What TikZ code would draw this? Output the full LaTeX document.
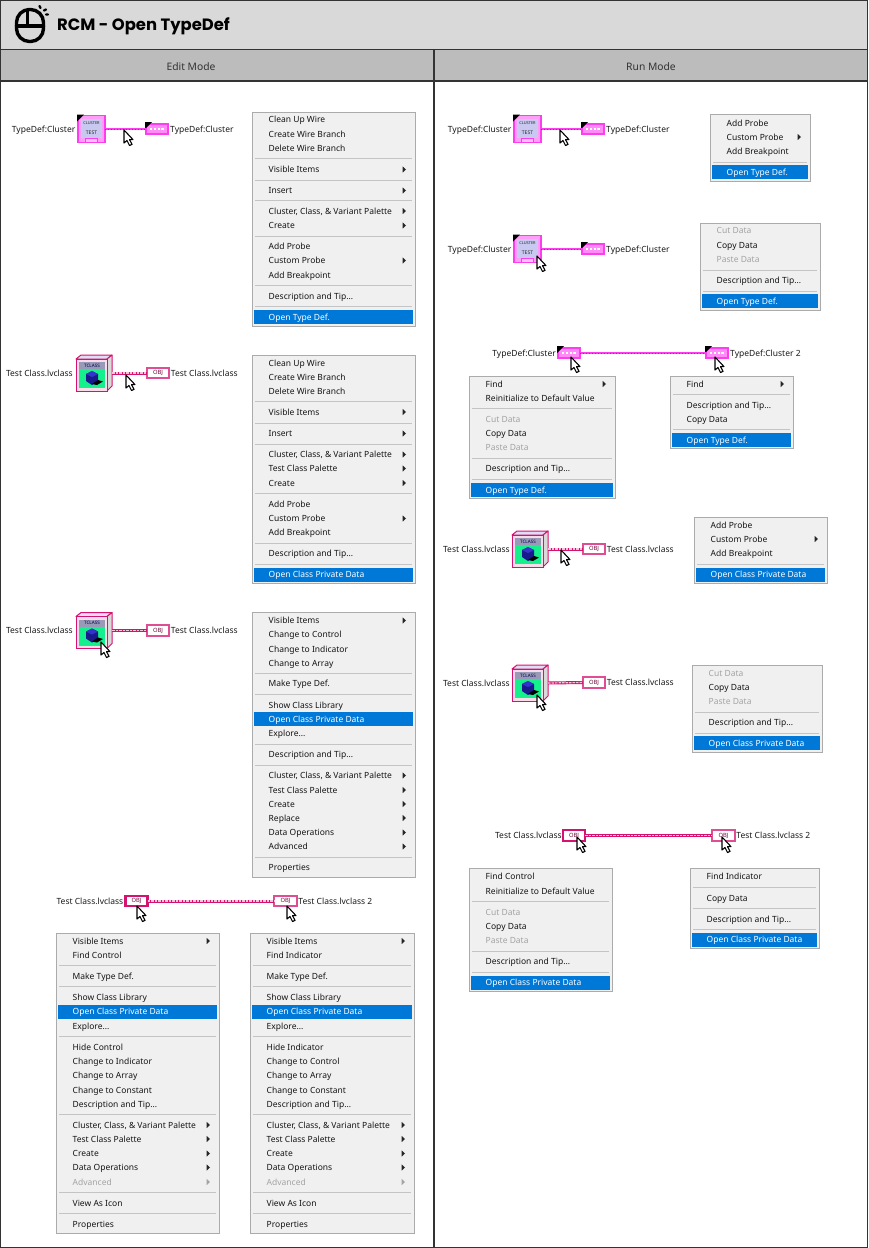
\documentclass[tikz,border=0pt]{standalone}
\usepackage{fontspec}
\usepackage{tikz}
\usetikzlibrary{positioning}
\setmainfont{Noto Sans}
\newfontfamily\titlefont{Poppins}
\definecolor{titlebg}{HTML}{D9D9D9}
\definecolor{headbg}{HTML}{BCBCBC}
\definecolor{frameline}{HTML}{333333}
\definecolor{menubg}{HTML}{F0F0F0}
\definecolor{menuedge}{HTML}{ABABAB}
\definecolor{menusep}{HTML}{C4C4C4}
\definecolor{menublue}{HTML}{0078D7}
\definecolor{menugray}{HTML}{A3A3A3}
\definecolor{clusterpink}{HTML}{FF3DF0}
\definecolor{classpink}{HTML}{D5126F}
\definecolor{lavender}{HTML}{C8C8F0}
\definecolor{classgreen}{HTML}{14F08C}
\newcommand{\menufont}{\fontsize{8.5}{10}\selectfont}
\newcommand{\tiptxt}{Description and Tip...}
\newcommand{\exptxt}{Explore...}
\tikzset{
	menubox/.style={draw=menuedge,fill=menubg,line width=1pt,anchor=north west,inner sep=0pt,outer sep=0pt},
	menurow/.style={anchor=west,inner sep=0pt,text height=8.5pt,text depth=2pt,font=\menufont},
	tlabel/.style={inner sep=0pt,text height=8.5pt,text depth=2pt,font=\menufont,text=black!90},
	headtext/.style={font=\fontsize{10.3}{12}\selectfont,text=black!80},
	frame/.style={draw=frameline,line width=1.6pt},
	clusterbig/.style={draw=clusterpink,fill=clusterpink!50,line width=1.6pt,minimum width=27pt,minimum height=27pt,inner sep=0pt,outer sep=0pt},
	clusterterm/.style={draw=clusterpink,fill=clusterpink!60,line width=1.6pt,minimum width=22pt,minimum height=10.5pt,inner sep=0pt,outer sep=0pt},
	classbig/.style={minimum width=36pt,minimum height=36pt,inner sep=0pt,outer sep=0pt},
	classterm/.style={draw=classpink!75,fill=white,line width=1.6pt,minimum width=22.5pt,minimum height=10.5pt,inner sep=0pt,outer sep=0pt,text=classpink!50!black,font=\bfseries\fontsize{5.8}{6}\selectfont},
	classctrl/.style={classterm,draw=classpink,line width=2.2pt,minimum width=22pt},
	clusterwire/.style={draw=clusterpink,line width=2.8pt,postaction={draw=purple!70!clusterpink,line width=1pt,dash pattern=on 1pt off 2pt}},
	classwire/.style={draw=classpink,line width=3pt,postaction={draw=white!75!classpink,line width=1.2pt,dash pattern=on 2.5pt off 1pt}},
	pointer/.style={draw=black,fill=white,line width=1.1pt,line join=round},
	mouseline/.style={draw=black,line width=3.4pt,line cap=round},
}
% one row of a menu, by kind
\newcommand{\mrown}[3]{\node[menurow,text=black!92] (\mN-#1) at (\mX+16.5,#2) {#3};}
\newcommand{\mrowd}[3]{\node[menurow,text=menugray] (\mN-#1) at (\mX+16.5,#2) {#3};}
\newcommand{\mrowa}[3]{\mrown{#1}{#2}{#3}\fill[black!85] (\mR-12.5,#2-3.2) -- (\mR-9,#2) -- (\mR-12.5,#2+3.2) -- cycle;}
\newcommand{\mrowe}[3]{\mrowd{#1}{#2}{#3}\fill[menugray] (\mR-12.5,#2-3.2) -- (\mR-9,#2) -- (\mR-12.5,#2+3.2) -- cycle;}
\newcommand{\mrowh}[3]{\fill[menublue] (\mX+2,#2-7) rectangle (\mR-2,#2+7);\node[menurow,text=white] (\mN-#1) at (\mX+16.5,#2) {#3};}
\newcommand{\mrows}[3]{\draw[menusep,line width=1pt] (\mX+3,#2) -- (\mR-3,#2);}
% name, left, top, width, height, rows
\newcommand{\ctxmenu}[6]{
	\def\mN{#1}\def\mX{#2}\pgfmathsetmacro{\mR}{#2+#4}
	\node[menubox,minimum width=#4pt,minimum height=#5pt] (#1) at (#2,#3) {};
	\foreach \ty/\kind/\txt [count=\n] in {#6}{\csname mrow\kind\endcsname{\n}{\ty}{\txt}}
}
\newcommand{\clusterctl}[3]{
	\node[clusterbig] (#1) at (#2,#3) {};
	\fill[black] (#2-14.5,#3-14.5) -- (#2-7.5,#3-14.5) -- (#2-14.5,#3-7.5) -- cycle;
	\fill[lavender] (#2-10.5,#3-10.5) rectangle (#2+10.5,#3+9);
	\node[inner sep=0pt,font=\bfseries\fontsize{3.9}{4}\selectfont,text=black!85] (#1t) at (#2,#3-5.5) {CLUSTER};
	\node[inner sep=0pt,font=\bfseries\fontsize{5}{5}\selectfont,text=black!85] (#1u) at (#2,#3+3.5) {TEST};
	\draw[clusterpink,fill=white!70!clusterpink,line width=1pt] (#2-6,#3+9) rectangle (#2+6,#3+13);
}
\newcommand{\clusterbit}[3]{
	\node[clusterterm] (#1) at (#2,#3) {};
	\fill[black] (#2-12,#3-7) -- (#2-5,#3-7) -- (#2-12,#3) -- cycle;
	\draw[white,line width=2.6pt,dash pattern=on 2.2pt off 1.6pt] (#2-7,#3) -- (#2+8,#3);
}
\newcommand{\classctl}[3]{
	\node[classbig] (#1) at (#2,#3) {};
	\draw[classpink,fill=lavender!60!white,line width=1pt,line join=round] (#2-18,#3-14) -- (#2-13,#3-18) -- (#2+18,#3-18) -- (#2+13,#3-14) -- cycle;
	\draw[classpink,fill=black!15,line width=1pt,line join=round] (#2+13,#3-14) -- (#2+18,#3-18) -- (#2+18,#3+13) -- (#2+13,#3+18) -- cycle;
	\draw[classpink,fill=white!85!classpink,line width=1pt] (#2-18,#3-14) rectangle (#2+13,#3+18);
	\fill[classgreen] (#2-15,#3-11) rectangle (#2+10.5,#3+15);
	\fill[blue!30!black!40!white] (#2-15,#3-11) rectangle (#2+10.5,#3-4);
	\node[inner sep=0pt,font=\bfseries\fontsize{4.6}{5}\selectfont,text=blue!30!black] (#1t) at (#2-2,#3-7.5) {TCLASS};
	\fill[blue!50!black!90!white] (#2-8,#3+1) -- (#2-2,#3-2) -- (#2+4,#3+1) -- (#2+4,#3+8) -- (#2-2,#3+12) -- (#2-8,#3+8) -- cycle;
	\fill[blue!75!white!80!black] (#2-8,#3+1) -- (#2-2,#3-2) -- (#2+4,#3+1) -- (#2-2,#3+4) -- cycle;
	\fill[black] (#2-2,#3+11) -- (#2+4,#3+7) -- (#2+9,#3+8.5) -- (#2+3,#3+12) -- cycle;
}
\newcommand{\classbit}[3]{
	\node[classterm] (#1) at (#2,#3) {OBJ};
}
\newcommand{\classbitc}[3]{
	\node[classctrl] (#1) at (#2,#3) {OBJ};
}
\newcommand{\cursorat}[3]{
	\draw[pointer] (#2,#3) -- (#2,#3+13) -- (#2+3,#3+10.5) -- (#2+5.5,#3+15.5) -- (#2+8,#3+14.3) -- (#2+5.5,#3+9.6) -- (#2+9,#3+9.6) -- cycle;
}
\begin{document}
\begin{tikzpicture}[x=1pt,y=-1pt]
	\useasboundingbox (0,0) rectangle (868,1248);
	\fill[white] (0,0) rectangle (868,1248);
	\fill[titlebg] (0,0) rectangle (868,49.5);
	\fill[headbg] (0,49.5) rectangle (868,81);
	\draw[frame] (0,49.5) -- (868,49.5) (0,81) -- (868,81) (434,49.5) -- (434,1248);
	\draw[frame] (0.6,0.6) rectangle (867.4,1247.4);

	% title
	\draw[mouseline,rounded corners=13pt] (16.5,9.5) rectangle (43.5,41.5);
	\draw[mouseline] (16.5,26) -- (43.5,26) (27.5,9.5) -- (27.5,26);
	\draw[mouseline,line width=2.4pt] (39.5,6) -- (40.5,8) (44,10.5) -- (46,9.5) (46,14.5) -- (48,14.5);
	\node[anchor=west,inner sep=0pt,font=\titlefont\bfseries\fontsize{16.4}{18}\selectfont] (title) at (57,26.5) {RCM - Open TypeDef};
	\node[headtext] (editmode) at (191,66.5) {Edit Mode};
	\node[headtext] (runmode) at (651,66.5) {Run Mode};

	% edit mode
	\clusterctl{ea}{91.5}{129}
	\clusterbit{eb}{157}{129}
	\draw[clusterwire] (ea.east) -- (eb.west);
	\node[tlabel,left=2.5pt of ea] (eal) {TypeDef:Cluster};
	\node[tlabel,right=2pt of eb] (ebl) {TypeDef:Cluster};
	\cursorat{cea}{124}{130}

	\classctl{ec}{94}{373}
	\classbit{ed}{158}{373}
	\draw[classwire] (ec.east) -- (ed.west);
	\node[tlabel,left=3pt of ec] (ecl) {Test Class.lvclass};
	\node[tlabel,right=1.5pt of ed] (edl) {Test Class.lvclass};
	\cursorat{ceb}{126}{375}

	\classctl{ee}{94}{630.5}
	\classbit{ef}{158}{630.5}
	\draw[classwire] (ee.east) -- (ef.west);
	\node[tlabel,left=3pt of ee] (eel) {Test Class.lvclass};
	\node[tlabel,right=1.5pt of ef] (efl) {Test Class.lvclass};
	\cursorat{cec}{101}{642}

	\classbitc{eg}{136.5}{901}
	\classbit{eh}{285.5}{901}
	\draw[classwire] (eg.east) -- (eh.west);
	\node[tlabel,left=2pt of eg] (egl) {Test Class.lvclass};
	\node[tlabel,right=1.5pt of eh] (ehl) {Test Class.lvclass 2};
	\cursorat{ced}{137}{906}
	\cursorat{cee}{287}{906}

	\ctxmenu{ma}{252}{112}{163}{214}{119.5/n/Clean Up Wire,134/n/Create Wire Branch,148/n/Delete Wire Branch,158.5/s/-,169.5/a/Visible Items,180/s/-,190.5/a/Insert,200.5/s/-,211/a/{Cluster, Class, \& Variant Palette},225.5/a/Create,236/s/-,246/n/Add Probe,260.5/a/Custom Probe,275/n/Add Breakpoint,285.5/s/-,296/n/\tiptxt,306.5/s/-,317/h/Open Type Def.}
	\ctxmenu{mb}{252}{355}{163}{228}{363/n/Clean Up Wire,377/n/Create Wire Branch,391.5/n/Delete Wire Branch,401.5/s/-,412/a/Visible Items,423/s/-,433.5/a/Insert,444/s/-,454.5/a/{Cluster, Class, \& Variant Palette},468.5/a/Test Class Palette,483/a/Create,493.5/s/-,504/n/Add Probe,518.5/a/Custom Probe,532.5/n/Add Breakpoint,543/s/-,553.5/n/\tiptxt,564/s/-,574.5/h/Open Class Private Data}
	\ctxmenu{mc}{252}{612}{163}{265}{620.5/a/Visible Items,634.5/n/Change to Control,649/n/Change to Indicator,663/n/Change to Array,673.5/s/-,683.5/n/Make Type Def.,694/s/-,705/n/Show Class Library,719/h/Open Class Private Data,733.5/n/\exptxt,744/s/-,754.5/n/\tiptxt,765/s/-,775.5/a/{Cluster, Class, \& Variant Palette},790/a/Test Class Palette,804/a/Create,818/a/Replace,832.5/a/Data Operations,846.5/a/Advanced,857/s/-,867.5/n/Properties}
	\ctxmenu{md}{56}{933}{163}{300}{941/a/Visible Items,955/n/Find Control,965.5/s/-,976/n/Make Type Def.,986.5/s/-,997/n/Show Class Library,1011.5/h/Open Class Private Data,1026/n/\exptxt,1036.5/s/-,1047/n/Hide Control,1061/n/Change to Indicator,1075.5/n/Change to Array,1090/n/Change to Constant,1104/n/\tiptxt,1114.5/s/-,1125/a/{Cluster, Class, \& Variant Palette},1139/a/Test Class Palette,1153.5/a/Create,1167.5/a/Data Operations,1182/e/Advanced,1192.5/s/-,1203/n/View As Icon,1213.5/s/-,1224/n/Properties}
	\ctxmenu{me}{250}{933}{164}{300}{941/a/Visible Items,955/n/Find Indicator,965.5/s/-,976/n/Make Type Def.,986.5/s/-,997/n/Show Class Library,1011.5/h/Open Class Private Data,1026/n/\exptxt,1036.5/s/-,1047/n/Hide Indicator,1061/n/Change to Control,1075.5/n/Change to Array,1090/n/Change to Constant,1104/n/\tiptxt,1114.5/s/-,1125/a/{Cluster, Class, \& Variant Palette},1139/a/Test Class Palette,1153.5/a/Create,1167.5/a/Data Operations,1182/e/Advanced,1192.5/s/-,1203/n/View As Icon,1213.5/s/-,1224/n/Properties}

	% run mode
	\clusterctl{ra}{527.5}{129}
	\clusterbit{rb}{593}{129}
	\draw[clusterwire] (ra.east) -- (rb.west);
	\node[tlabel,left=2.5pt of ra] (ral) {TypeDef:Cluster};
	\node[tlabel,right=2pt of rb] (rbl) {TypeDef:Cluster};
	\cursorat{cra}{560}{130}

	\clusterctl{rc}{527.5}{249}
	\clusterbit{rd}{593}{249}
	\draw[clusterwire] (rc.east) -- (rd.west);
	\node[tlabel,left=2.5pt of rc] (rcl) {TypeDef:Cluster};
	\node[tlabel,right=2pt of rd] (rdl) {TypeDef:Cluster};
	\cursorat{crb}{537}{256}

	\clusterbit{re}{569}{353}
	\clusterbit{rf}{717}{353}
	\draw[clusterwire] (re.east) -- (rf.west);
	\node[tlabel,left=2pt of re] (rel) {TypeDef:Cluster};
	\node[tlabel,right=2pt of rf] (rfl) {TypeDef:Cluster 2};
	\cursorat{crc}{571}{357}
	\cursorat{crd}{715}{357}

	\classctl{rg}{530}{549}
	\classbit{rh}{594}{549}
	\draw[classwire] (rg.east) -- (rh.west);
	\node[tlabel,left=2pt of rg] (rgl) {Test Class.lvclass};
	\node[tlabel,right=1.5pt of rh] (rhl) {Test Class.lvclass};
	\cursorat{cre}{561}{550}

	\classctl{ri}{530}{683}
	\classbit{rj}{594}{682.5}
	\draw[classwire] (ri.east) -- (rj.west);
	\node[tlabel,left=2pt of ri] (ril) {Test Class.lvclass};
	\node[tlabel,right=1.5pt of rj] (rjl) {Test Class.lvclass};
	\cursorat{crf}{537}{695}

	\classbitc{rk}{574}{835.5}
	\classbit{rl}{723.5}{835.5}
	\draw[classwire] (rk.east) -- (rl.west);
	\node[tlabel,left=1pt of rk] (rkl) {Test Class.lvclass};
	\node[tlabel,right=1.5pt of rl] (rll) {Test Class.lvclass 2};
	\cursorat{crg}{577}{837}
	\cursorat{crh}{722}{837}

	\ctxmenu{na}{710}{114}{100}{67}{123/n/Add Probe,137/a/Custom Probe,151.5/n/Add Breakpoint,162/s/-,172/h/Open Type Def.}
	\ctxmenu{nb}{700}{223}{120}{87}{230.5/d/Cut Data,245/n/Copy Data,259/d/Paste Data,270/s/-,280.5/n/\tiptxt,291/s/-,301/h/Open Type Def.}
	\ctxmenu{nc}{469}{376}{146}{122}{384/a/Find,398/n/Reinitialize to Default Value,408.5/s/-,419/d/Cut Data,433.5/n/Copy Data,447.5/d/Paste Data,458/s/-,468.5/n/\tiptxt,479/s/-,490/h/Open Type Def.}
	\ctxmenu{nd}{670}{376}{123}{72}{384/a/Find,394.5/s/-,405/n/\tiptxt,419/n/Copy Data,429.5/s/-,440/h/Open Type Def.}
	\ctxmenu{ne}{694}{517}{133}{66}{525/n/Add Probe,539/a/Custom Probe,553/n/Add Breakpoint,564/s/-,574.5/h/Open Class Private Data}
	\ctxmenu{nf}{692}{665}{130}{87}{673/d/Cut Data,687/n/Copy Data,701/d/Paste Data,712/s/-,722/n/\tiptxt,733/s/-,743/h/Open Class Private Data}
	\ctxmenu{ng}{469}{868}{143}{123}{876.5/n/Find Control,891/n/Reinitialize to Default Value,901.5/s/-,912/d/Cut Data,926/n/Copy Data,940/d/Paste Data,951/s/-,961.5/n/\tiptxt,972/s/-,982.5/h/Open Class Private Data}
	\ctxmenu{nh}{690}{868}{129}{80}{876.5/n/Find Indicator,887/s/-,898/n/Copy Data,908.5/s/-,919/n/\tiptxt,929.5/s/-,939.5/h/Open Class Private Data}
\end{tikzpicture}
\end{document}
